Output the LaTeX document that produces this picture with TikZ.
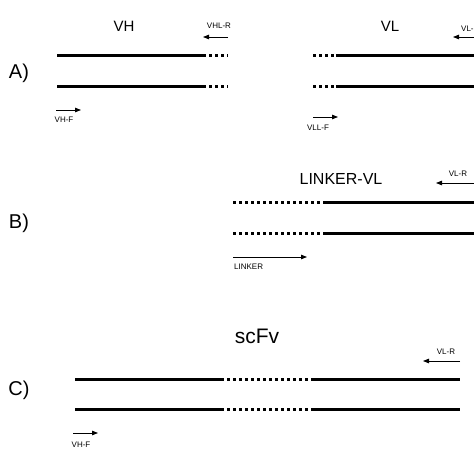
\documentclass[tikz,border=0pt]{standalone}
\usepackage{fontspec}
\setmainfont{Liberation Sans}
\usetikzlibrary{arrows.meta}
\tikzset{
  strand/.style={line width=3pt},
  dotstrand/.style={line width=3pt, dash pattern=on 3pt off 3pt},
  primer/.style={line width=0.8pt, -{Triangle[length=6pt,width=4.5pt]}},
  small/.style={font=\fontsize{8}{9}\selectfont, inner sep=0pt},
  title/.style={font=\fontsize{15}{17}\selectfont, inner sep=0pt},
  panel/.style={font=\fontsize{20}{22}\selectfont, inner sep=0pt}
}
\begin{document}
\begin{tikzpicture}[x=1pt,y=-1pt]
\useasboundingbox (0,0) rectangle (474,474);
% ---------- A ----------
\node[panel] (pa) at (19,73) {A)};
\node[title] (tvh) at (124,26) {VH};
\node[title] (tvl) at (390,26) {VL};
\coordinate (a1s) at (57,55); \coordinate (a1e) at (206,55); \coordinate (a1d) at (228,55);
\coordinate (a2s) at (57,86); \coordinate (a2e) at (206,86); \coordinate (a2d) at (228,86);
\draw[strand] (a1s) -- (a1e); \draw[dotstrand] (209,55) -- (a1d);
\draw[strand] (a2s) -- (a2e); \draw[dotstrand] (209,86) -- (a2d);
\coordinate (b1s) at (313,55); \coordinate (b1m) at (336,55); \coordinate (b1e) at (476,55);
\coordinate (b2s) at (313,86); \coordinate (b2m) at (336,86); \coordinate (b2e) at (476,86);
\draw[dotstrand] (b1s) -- (b1m); \draw[strand] (b1m) -- (b1e);
\draw[dotstrand] (b2s) -- (b2m); \draw[strand] (b2m) -- (b2e);
% primers A
\coordinate (vhlr1) at (228,37); \coordinate (vhlr2) at (203,37);
\draw[primer] (vhlr1) -- (vhlr2);
\node[small] (lvhlr) at (219,26) {VHL-R};
\coordinate (vhf1) at (56,110); \coordinate (vhf2) at (81,110);
\draw[primer] (vhf1) -- (vhf2);
\node[small] (lvhf) at (64,120) {VH-F};
\coordinate (vlr1) at (480,37); \coordinate (vlr2) at (453,37);
\draw[primer] (vlr1) -- (vlr2);
\node[small, anchor=west] (lvlr) at (461,29) {VL-R};
\coordinate (vllf1) at (313,117); \coordinate (vllf2) at (338,117);
\draw[primer] (vllf1) -- (vllf2);
\node[small] (lvllf) at (318,128) {VLL-F};
% ---------- B ----------
\node[panel] (pb) at (19,223) {B)};
\node[title, font=\fontsize{16}{18}\selectfont] (tlvl) at (341,179) {LINKER-VL};
\coordinate (c1s) at (233,202); \coordinate (c1m) at (323,202); \coordinate (c1e) at (476,202);
\coordinate (c2s) at (233,233); \coordinate (c2m) at (323,233); \coordinate (c2e) at (476,233);
\draw[dotstrand] (c1s) -- (c1m); \draw[strand] (c1m) -- (c1e);
\draw[dotstrand] (c2s) -- (c2m); \draw[strand] (c2m) -- (c2e);
\coordinate (bvlr1) at (474,183); \coordinate (bvlr2) at (436,183);
\draw[primer] (bvlr1) -- (bvlr2);
\node[small] (lbvlr) at (458,174) {VL-R};
\coordinate (lk1) at (233,257); \coordinate (lk2) at (307,257);
\draw[primer] (lk1) -- (lk2);
\node[small, anchor=west] (llk) at (234,267) {LINKER};
% ---------- C ----------
\node[panel] (pc) at (19,390) {C)};
\node[title, font=\fontsize{21}{23}\selectfont] (tscfv) at (257,336) {scFv};
\coordinate (d1s) at (75,379); \coordinate (d1m) at (224,379); \coordinate (d1n) at (312,379); \coordinate (d1e) at (460,379);
\coordinate (d2s) at (75,409); \coordinate (d2m) at (224,409); \coordinate (d2n) at (312,409); \coordinate (d2e) at (460,409);
\draw[strand] (d1s) -- (d1m); \draw[dotstrand] (227,379) -- (d1n); \draw[strand] (d1n) -- (d1e);
\draw[strand] (d2s) -- (d2m); \draw[dotstrand] (227,409) -- (d2n); \draw[strand] (d2n) -- (d2e);
\coordinate (cvlr1) at (460,361); \coordinate (cvlr2) at (423,361);
\draw[primer] (cvlr1) -- (cvlr2);
\node[small] (lcvlr) at (446,352) {VL-R};
\coordinate (cvhf1) at (73,433); \coordinate (cvhf2) at (98,433);
\draw[primer] (cvhf1) -- (cvhf2);
\node[small] (lcvhf) at (81,445) {VH-F};
\end{tikzpicture}
\end{document}
